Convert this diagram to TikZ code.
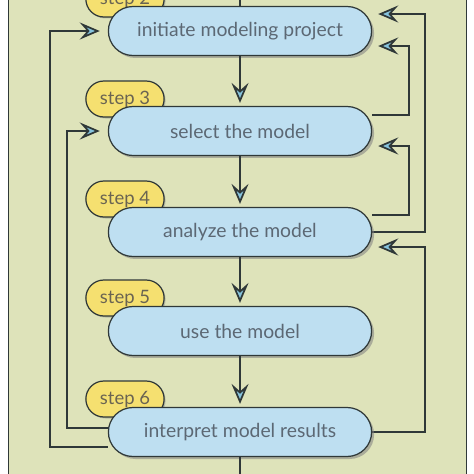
\documentclass[tikz,border=0pt]{standalone}
\usepackage{fontspec}
\setmainfont{Lato}
\usepackage{tikz}
\usetikzlibrary{arrows.meta, shapes.misc, positioning, calc, shadows}

\definecolor{panelgreen}{HTML}{DEE3BA}
\definecolor{pillblue}{HTML}{BEDFF1}
\definecolor{tagyellow}{HTML}{F5E070}
\definecolor{tipblue}{HTML}{86C3DC}
\definecolor{edgegray}{HTML}{2F3838}
\definecolor{pilltext}{HTML}{5C6874}
\definecolor{tagtext}{HTML}{6A6452}

\pgfdeclarelayer{panel}
\pgfdeclarelayer{wires}
\pgfsetlayers{panel,wires,main}

\begin{document}
\begin{tikzpicture}[
    x=0.02cm, y=-0.02cm,
    stage/.style={draw=edgegray, rounded rectangle, minimum width=5.5cm,
                  minimum height=0.98cm, fill=pillblue, text=pilltext,
                  line width=0.7pt, font=\fontsize{11}{13}\selectfont,
                  drop shadow={shadow xshift=0.05cm, shadow yshift=-0.05cm,
                               opacity=0.55}},
    tag/.style={draw=edgegray, rounded rectangle, minimum width=1.8cm,
                minimum height=0.72cm, fill=tagyellow, text=tagtext,
                line width=0.7pt, font=\fontsize{10.5}{12}\selectfont,
                drop shadow={shadow xshift=0.03cm, shadow yshift=-0.03cm,
                             opacity=0.4}},
    wire/.style={draw=edgegray, line width=1pt},
    arr/.style={wire, -{Stealth[length=0.4cm, width=0.34cm, inset=0.15cm,
                fill=tipblue]}},
  ]
  \useasboundingbox (0,0) rectangle (474,474);

  % green panel
  \begin{pgfonlayer}{panel}
    \fill[panelgreen] (8,0) rectangle (466,474);
    \draw[edgegray, line width=0.5pt] (8,0) -- (8,474);
    \draw[edgegray, line width=0.5pt] (466,0) -- (466,474);
  \end{pgfonlayer}

  % step tags (behind the stages)
  \node[tag] (tag2) at (125,-1)  {step 2};
  \node[tag] (tag3) at (125,99)  {step 3};
  \node[tag] (tag4) at (125,199) {step 4};
  \node[tag] (tag5) at (125,298) {step 5};
  \node[tag] (tag6) at (125,399) {step 6};

  % stages
  \node[stage] (init)    at (240,31)  {initiate modeling project};
  \node[stage] (select)  at (240,131) {select the model};
  \node[stage] (analyze) at (240,232) {analyze the model};
  \node[stage] (use)     at (240,331) {use the model};
  \node[stage] (interp)  at (240,432) {interpret model results};

  % main flow
  \coordinate (top)    at (240,0);
  \coordinate (bottom) at (240,474);
  \draw[wire] (top) -- (init.north);
  \draw[arr, shorten >=0.06cm] (init)    -- (select);
  \draw[arr, shorten >=0.06cm] (select)  -- (analyze);
  \draw[arr, shorten >=0.06cm] (analyze) -- (use);
  \draw[arr, shorten >=0.06cm] (use)     -- (interp);
  \draw[wire] (interp.south) -- (bottom);

  % feedback loops
  \begin{pgfonlayer}{wires}
    \draw[arr] ($(interp.west)+(0,15)$) -| (50,31)
      -- ($(init.west)+(-8,0)$);
    \draw[arr] ($(interp.west)+(0,-4)$) -| (67,131)
      -- ($(select.west)+(-8,0)$);
    \draw[arr] (analyze.east) -| (425,14)
      -- ($(init.east)+(6,-17)$);
    \draw[arr] ($(select.east)+(0,-16)$) -| (409,46)
      -- ($(init.east)+(6,15)$);
    \draw[arr] ($(analyze.east)+(0,-17)$) -| (409,146)
      -- ($(select.east)+(6,15)$);
    \draw[arr] (interp.east) -| (425,247)
      -- ($(analyze.east)+(6,15)$);
  \end{pgfonlayer}
\end{tikzpicture}
\end{document}
